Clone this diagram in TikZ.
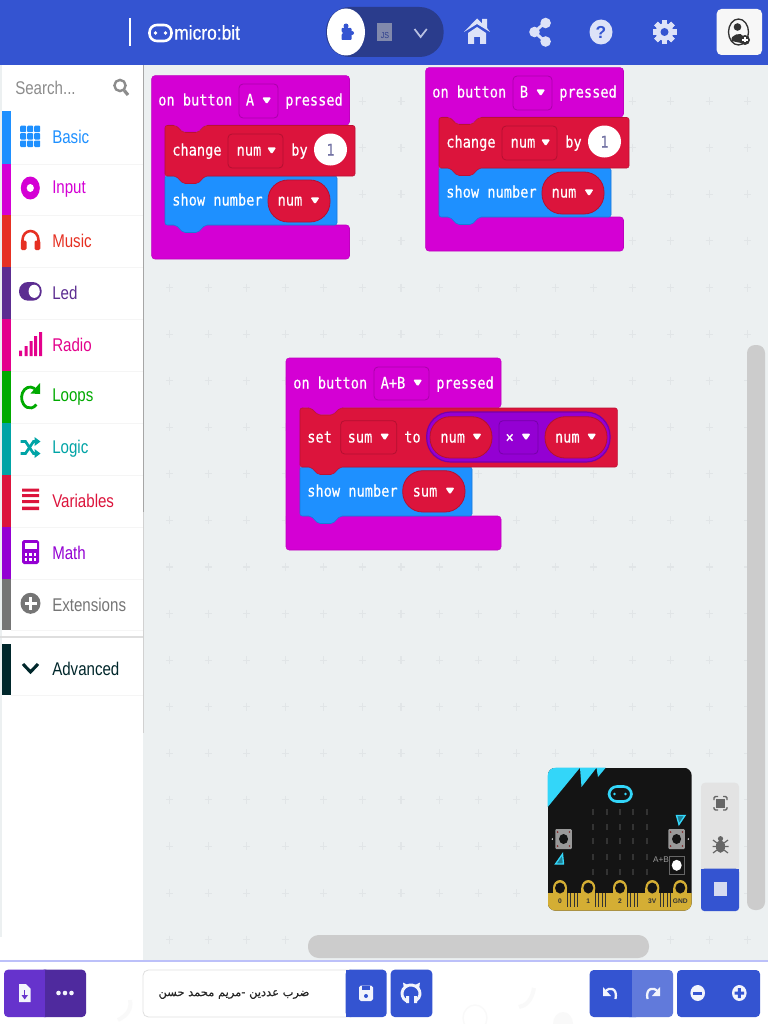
\documentclass[tikz,border=0pt]{standalone}
\usepackage{fontspec}
\setmainfont{Liberation Sans}
\TeXXeTstate=1
\newfontfamily\blockfont[FakeStretch=0.86,FakeBold=0.4]{DejaVu Sans Mono}
\newfontfamily\uifont[FakeStretch=0.82]{Liberation Sans}
\newfontfamily\logofont[FakeStretch=0.87,FakeBold=0.4]{Liberation Sans}
\newfontfamily\arabicfont[Script=Arabic,FakeBold=0.3]{DejaVu Sans}
\definecolor{hdr}{HTML}{3454D1}
\definecolor{hdrdark}{HTML}{2A3C8C}
\definecolor{lav}{HTML}{DDE2F8}
\definecolor{ws}{HTML}{ECF0F1}
\definecolor{plusc}{HTML}{E1E5E7}
\definecolor{cBasic}{HTML}{1E90FF}
\definecolor{cInput}{HTML}{D400D4}
\definecolor{cMusic}{HTML}{E63022}
\definecolor{cLed}{HTML}{5C2D91}
\definecolor{cRadio}{HTML}{E3008C}
\definecolor{cLoops}{HTML}{00AA00}
\definecolor{cLogic}{HTML}{00A4A6}
\definecolor{cVar}{HTML}{DC143C}
\definecolor{cMath}{HTML}{9400D3}
\definecolor{cExt}{HTML}{757575}
\definecolor{cAdv}{HTML}{00272B}
\definecolor{gold}{HTML}{D4AE34}
\definecolor{cyanb}{HTML}{33D6F9}
\definecolor{dlLight}{HTML}{6633CC}
\definecolor{dlDark}{HTML}{4F2A9E}
\definecolor{iconw}{HTML}{F2F4FC}
\tikzset{
  blocktext/.style={text=white,font=\blockfont\fontsize{11.9}{12}\selectfont,inner sep=0pt,anchor=base west},
  blockmid/.style={text=white,font=\blockfont\fontsize{11.9}{12}\selectfont,inner sep=0pt,anchor=base},
  catlabel/.style={font=\uifont\fontsize{13.8}{14}\selectfont,inner sep=0pt,anchor=west},
}
% rounded rectangle: fill, stroke, x1,y1,x2,y2,radius
\newcommand{\rrect}[7]{\draw[fill=#1,draw=#2,line width=.6pt,rounded corners=#7] (#3,#4) rectangle (#5,#6);}
% white drop-down mark
\newcommand{\ddown}[2]{\fill[white,rounded corners=1pt] ({#1-4.6},{#2-3.4}) -- ({#1+4.6},{#2-3.4}) -- (#1,{#2+3.6}) -- cycle;}
% stack block with notch and bump
\newcommand{\stackblock}[5]{\draw[fill=#1,draw=#1!85!black,line width=.4pt,rounded corners=1.6pt]
  (#2,#3) -- ({#2+11},#3) -- ({#2+18},{#3+7}) -- ({#2+33},{#3+7}) -- ({#2+40},#3) -- (#4,#3) -- (#4,#5)
  -- ({#2+40},#5) -- ({#2+33},{#5+7.5}) -- ({#2+18},{#5+7.5}) -- ({#2+11},#5) -- (#2,#5) -- cycle;}
% hat: x1,y1,x2,y2,yRowBottom,xInner,yBottomTop
\newcommand{\hatblock}[7]{\draw[fill=cInput,draw=cInput!90!black,line width=.4pt,rounded corners=2.4pt]
  (#1,#2) -- (#3,#2) -- (#3,#5) -- ({#6+40},#5) -- ({#6+33},{#5+7}) -- ({#6+18},{#5+7}) -- ({#6+11},#5) -- (#6,#5) -- (#6,#7) -- (#3,#7) -- (#3,#4) -- (#1,#4) -- cycle;}
\newcommand{\catbar}[4]{\fill[#1] (2,#2) rectangle (11,#3);\draw[draw=#4,line width=.4pt] (11,#3) -- (143,#3);}
\newcommand{\onbutton}[2]{%
  \hatblock{151.7}{75.7}{349.5}{259}{125}{165}{225}
  \stackblock{cBasic}{165}{176}{337}{225}
  \stackblock{cVar}{165}{125.5}{355}{176}
  \node[blocktext] (#1on) at (158,105.5) {on button};
  \rrect{cInput}{black!20!cInput}{239}{84}{278}{118}{3pt}
  \node[blockmid] (#1key) at (250,105.5) {#2};
  \ddown{266.7}{100.7}
  \node[blocktext] (#1pr) at (285,105.5) {pressed};
  \node[blocktext] (#1ch) at (172,155.5) {change};
  \rrect{cVar}{black!18!cVar}{228}{134}{283}{168}{3pt}
  \node[blockmid] (#1nv) at (249,155.5) {num};
  \ddown{271.7}{150.7}
  \node[blocktext] (#1by) at (291,155.5) {by};
  \fill[white] (330.5,149.5) ellipse[x radius=16.5,y radius=16];
  \node[blockmid,text=black!65!blue!55!white] (#1one) at (330.5,155.5) {1};
  \node[blocktext] (#1sh) at (172,205.5) {show number};
  \rrect{cVar}{black!18!cVar}{268}{180}{330}{222}{15pt}
  \node[blockmid] (#1nu) at (290,205.5) {num};
  \ddown{315}{200.7}
}
\begin{document}
\begin{tikzpicture}[x=0.75pt,y=-0.75pt]
\useasboundingbox (0,0) rectangle (768,1024);
\fill[white] (0,0) rectangle (768,1024);
% workspace
\fill[ws] (143,65) rectangle (768,961);
\foreach \i in {0,...,15}{\foreach \j in {0,...,18}{
  \pgfmathsetmacro{\px}{169.7+38.55*\i}
  \pgfmathsetmacro{\py}{101.2+46.58*\j}
  \draw[plusc,line width=.8pt] ({\px-3.5},\py) -- ({\px+3.5},\py) (\px,{\py-4}) -- (\px,{\py+4});
}}
% header
\fill[hdr] (0,0) rectangle (768,65);
\draw[white,line width=1pt] (130,18) -- (130,46);
\draw[white,line width=1.9pt,rounded corners=5.5pt] (149.5,25) rectangle (171.5,41);
\fill[white] (155.5,33) circle[radius=1.9] (165.5,33) circle[radius=1.9];
\node[font=\logofont\fontsize{15}{15}\selectfont,text=white,inner sep=0pt,anchor=west] (logo) at (174,32.5) {micro:bit};
\fill[hdrdark,rounded corners=18pt] (326,7) rectangle (443.6,57);
\fill[white] (346,32) ellipse[x radius=19,y radius=23.5];
\fill[hdr,rounded corners=.6pt] (341.5,28) rectangle (351.5,40);
\fill[hdr] (346,26) circle[radius=2.5] (352,33) circle[radius=2];
\fill[white] (341,33) circle[radius=1.8];
\fill[black!25!lav!70!hdrdark] (376.5,23) rectangle (392,41);
\node[font=\uifont\fontsize{6.5}{7}\selectfont,text=hdrdark,inner sep=0pt] (js) at (385,36) {JS};
\draw[lav!80!hdrdark,line width=1.3pt] (414.5,29) -- (420.6,37) -- (426.8,29);
% home
\fill[lav] (464,32) -- (477,18.5) -- (482,23.5) -- (482,19) -- (487,19) -- (487,28) -- (490,32) -- (477,24) -- cycle;
\fill[lav] (468,33) -- (477,27) -- (486,33) -- (486,44) -- (480,44) -- (480,37) -- (474,37) -- (474,44) -- (468,44) -- cycle;
% share
\draw[lav,line width=2.2pt] (545.6,22) -- (534.5,32) -- (545.6,42);
\fill[lav] (534.5,32) circle[radius=5.3] (545.6,23) circle[radius=5.3] (545.6,41.5) circle[radius=5.3];
% help
\fill[lav] (601,32) ellipse[x radius=11.5,y radius=12.5];
\node[font=\bfseries\fontsize{13}{13}\selectfont,text=hdr,inner sep=0pt] (help) at (601,32) {?};
% gear
\foreach \a in {0,45,...,315}{\fill[lav,shift={(664.5,32)},rotate=\a] (-2.6,-12) rectangle (2.6,12);}
\fill[lav] (664.5,32) circle[radius=8.8];
\fill[hdr] (664.5,32) circle[radius=4];
% account box
\fill[black!3,rounded corners=3.5pt] (716.7,9) rectangle (762,55);
\draw[black!80,line width=1pt] (738.5,32) ellipse[x radius=10,y radius=13];
\fill[black!80] (737.5,27) circle[radius=3.8];
\fill[black!80] (731.5,41) .. controls (730,34) and (742,32) .. (743,36) -- (741,43) -- cycle;
\fill[black!80] (745,40) circle[radius=5];
\draw[white,line width=.8pt] (742.4,40) -- (747.6,40) (745,37.5) -- (745,42.5);
% sidebar
\fill[white] (0,65) rectangle (143,961);
\fill[ws] (0,65) rectangle (2,937);
\fill[black!35] (142.7,65) rectangle (144.3,512);
\fill[black!18] (142.7,512) rectangle (144.3,733);
\node[font=\uifont\fontsize{13.8}{14}\selectfont,text=black!45,inner sep=0pt,anchor=west] (search) at (15,88) {Search...};
\draw[black!45,line width=1.8pt] (120,85.5) circle[radius=5.6];
\draw[black!45,line width=2.4pt] (124.3,90.5) -- (128,95);
\catbar{cBasic}{111}{164}{black!4}
\catbar{cInput}{164}{215}{black!4}
\catbar{cMusic}{215}{267}{black!4}
\catbar{cLed}{267}{319}{black!4}
\catbar{cRadio}{319}{371}{black!4}
\catbar{cLoops}{371}{423}{black!4}
\catbar{cLogic}{423}{475}{black!4}
\catbar{cVar}{475}{527}{black!4}
\catbar{cMath}{527}{579}{black!4}
\catbar{cExt}{579}{630}{black!4}
\draw[black!13,line width=.8pt] (0,637) -- (143,637);
\catbar{cAdv}{644}{695}{black!4}
\node[catlabel,text=cBasic] (lBasic) at (52,137) {Basic};
\node[catlabel,text=cInput] (lInput) at (52,189.5) {Input};
\node[catlabel,text=cMusic] (lMusic) at (52,241) {Music};
\node[catlabel,text=cLed] (lLed) at (52,293) {Led};
\node[catlabel,text=cRadio] (lRadio) at (52,345) {Radio};
\node[catlabel,text=cLoops] (lLoops) at (52,397) {Loops};
\node[catlabel,text=cLogic] (lLogic) at (52,449) {Logic};
\node[catlabel,text=cVar] (lVar) at (52,501) {Variables};
\node[catlabel,text=cMath] (lMath) at (52,552.5) {Math};
\node[catlabel,text=cExt] (lExt) at (52,605) {Extensions};
\node[catlabel,text=cAdv] (lAdv) at (52,668.5) {Advanced};
% Basic icon
\foreach \i in {0,1,2}{\foreach \j in {0,1,2}{
  \fill[cBasic,rounded corners=.7pt] ({20.2+7*\i},{125.7+7.4*\j}) rectangle ({26.2+7*\i},{132.2+7.4*\j});}}
% Input icon
\fill[cInput] (30.3,188) ellipse[x radius=9.5,y radius=11.5];
\fill[white] (30.3,188) ellipse[x radius=3.6,y radius=4];
% Music icon
\draw[cMusic,line width=1.9pt] (22.5,243) -- (22.5,240) arc[start angle=180,end angle=360,x radius=8,y radius=9] -- (38.5,243);
\fill[cMusic,rounded corners=1pt] (20.8,240.5) rectangle (26.5,250) (34.5,240.5) rectangle (40.3,250);
% Led icon
\fill[cLed,rounded corners=6.8pt] (19,282) rectangle (41.7,300.7);
\fill[white] (34.2,291.3) ellipse[x radius=5.6,y radius=6.6];
% Radio icon
\fill[cRadio] (19,350.5) rectangle (22,356) (24.5,346) rectangle (27.5,356) (29.7,341) rectangle (32.7,356) (34.2,336) rectangle (37.2,356) (39,332) rectangle (42,356);
% Loops icon
\draw[cLoops,line width=2.1pt] (36.6,390.8) arc[start angle=-40,end angle=-318,x radius=8.5,y radius=10.5];
\fill[cLoops] (40,383) -- (40,394) -- (30.5,393.5) -- cycle;
% Logic icon
\draw[cLogic,line width=2pt] (20.5,441.5) -- (25.5,441.5) -- (33.5,453.5) -- (37,453.5) (20.5,453.5) -- (25.5,453.5) -- (33.5,441.5) -- (37,441.5);
\fill[cLogic] (34.5,437) -- (40.5,441.5) -- (34.5,446) -- cycle (34.5,449) -- (40.5,453.5) -- (34.5,458) -- cycle;
% Variables icon
\fill[cVar] (22,488.5) rectangle (39,491.5) (22,494) rectangle (39,497) (22,500) rectangle (39,503) (22,506.5) rectangle (39,510);
% Math icon
\fill[cMath,rounded corners=1.4pt] (22,540) rectangle (39,564);
\fill[white] (24.5,543) rectangle (36.5,549);
\foreach \i in {0,1,2}{\foreach \j in {0,1}{\fill[white] ({25+4.4*\i},{552.5+5*\j}) rectangle ({27.4+4.4*\i},{555.5+5*\j});}}
% Extensions icon
\fill[cExt] (30.5,603.3) ellipse[x radius=10,y radius=10.5];
\draw[white,line width=2.2pt] (24.5,603.3) -- (36.5,603.3) (30.5,597) -- (30.5,609.6);
% Advanced icon
\draw[cAdv,line width=2.3pt] (23,664) -- (30.5,672) -- (38,664);
% blocks A and B
\onbutton{a}{A}
\begin{scope}[shift={(274,-8)}]
\onbutton{b}{B}
\end{scope}
% block A+B
\hatblock{286}{358}{501}{550}{407.7}{300}{516}
\stackblock{cBasic}{300}{467}{472}{516}
\stackblock{cVar}{300}{408}{617.3}{467}
\node[blocktext] (con) at (293,388.5) {on button};
\rrect{cInput}{black!20!cInput}{374}{367}{429}{400}{3pt}
\node[blockmid] (ckey) at (393,388.5) {A+B};
\ddown{417.7}{383}
\node[blocktext] (cpr) at (436,388.5) {pressed};
\node[blocktext] (cset) at (307,442.5) {set};
\rrect{cVar}{black!18!cVar}{340.7}{420.7}{396.7}{454}{3pt}
\node[blockmid] (csum) at (360,442.5) {sum};
\ddown{384.7}{437}
\node[blocktext] (cto) at (404,442.5) {to};
\draw[fill=cMath,draw=cMath!80!black,line width=.9pt,rounded corners=18pt] (426.7,412) rectangle (610,462);
\rrect{cVar}{black!18!cVar}{430}{416.7}{492}{458}{15pt}
\node[blockmid] (cn1) at (452.7,442.5) {num};
\ddown{477}{437}
\rrect{cMath}{black!20!cMath}{499}{420.7}{538}{454}{3pt}
\node[blockmid] (cx) at (509.7,442.5) {×};
\ddown{526}{437}
\rrect{cVar}{black!18!cVar}{545}{416.7}{607}{458}{15pt}
\node[blockmid] (cn2) at (567.3,442.5) {num};
\ddown{591.7}{437}
\node[blocktext] (csh) at (307,496.5) {show number};
\rrect{cVar}{black!18!cVar}{402.7}{470.7}{465}{512}{15pt}
\node[blockmid] (csu) at (425,496.5) {sum};
\ddown{450}{491}
% scrollbars
\fill[black!20,rounded corners=6pt] (747,345) rectangle (765,910);
\fill[black!20,rounded corners=8pt] (308,935) rectangle (649,958);
% simulator
\begin{scope}
\clip[rounded corners=6pt] (547.7,767.7) rectangle (691.7,910.7);
\fill[black!92] (547.7,767.7) rectangle (691.7,910.7);
\fill[cyanb] (547.7,807) -- (580,767.7) -- (581.5,787) -- (596.5,767.7) -- (598,777) -- (605.7,767.7) -- (547.7,767.7) -- cycle;
\fill[gold] (547.7,893) rectangle (691.7,910.7);
\foreach \x in {567,570.5,574,577.5,595,598.5,602,605.5,627,630.5,634,637.5,660,663.5,667,670.5}{
  \draw[black!80,line width=.5pt] (\x,893) -- (\x,907);}
\end{scope}
\foreach \x in {560,588.3,620,652.3,680.3}{
  \fill[gold] (\x,888) ellipse[x radius=7,y radius=8];
  \fill[gold] ({\x-7},888) rectangle ({\x+7},905);
  \fill[black!92] (\x,888) ellipse[x radius=5,y radius=5.5];
}
\foreach \x/\t/\n in {560/0/p0,588.3/1/p1,620/2/p2,652.3/3V/p3,680.3/GND/p4}{
  \node[font=\bfseries\fontsize{5}{5}\selectfont,text=black!80,inner sep=0pt] (\n) at (\x,900.7) {\t};
}
\foreach \x in {593,606.7,620,633,646.7}{\foreach \y in {811.7,826.7,841,856.7,871.7}{
  \fill[black!80] ({\x-1.2},{\y-3}) rectangle ({\x+1.2},{\y+3});}}
\draw[cyanb,line width=2pt,rounded corners=6pt] (609,786.5) rectangle (631.5,801.5);
\fill[cyanb] (614.5,794) circle[radius=1.4] (625.5,794) circle[radius=1.4];
\foreach \x in {555.3,668.3}{
  \fill[black!40,rounded corners=.8pt] (\x,829) rectangle ({\x+16.5},849);
  \fill[black!92] ({\x+8.25},839) ellipse[x radius=4.5,y radius=5];
  \fill[red!50!black!70!gray] ({\x+2.3},832) circle[radius=.9] ({\x+14.2},832) circle[radius=.9] ({\x+2.3},846) circle[radius=.9] ({\x+14.2},846) circle[radius=.9];
}
\fill[white] (552.3,839) circle[radius=.8] (688.3,839) circle[radius=.8];
\fill[black!60] (669,856) rectangle (685,875);
\fill[black!92] (670,857) rectangle (684,874);
\fill[white] (676.7,865.3) ellipse[x radius=5,y radius=5.5];
\node[font=\fontsize{6.2}{6}\selectfont,text=black!40,inner sep=0pt] (ab) at (661,860) {A+B};
\draw[cyanb,line width=1pt,fill=cyanb!60!black] (676.5,815.5) -- (685,815.5) -- (679,824.5) -- cycle;
\draw[cyanb,line width=1pt,fill=cyanb!60!black] (555.5,864) -- (563.5,864) -- (562.5,854) -- cycle;
% simulator toolbar
\fill[black!11,rounded corners=3pt] (701,782.7) rectangle (739,875);
\fill[hdr,rounded corners=2.4pt] (701,868.7) rectangle (739,911);
\fill[hdr] (701,868.7) rectangle (739,878);
\fill[black!3!lav] (713.5,882) rectangle (726.5,896);
\fill[black!60] (716,798.5) rectangle (725,808);
\draw[black!60,line width=1pt,rounded corners=1pt] (714,800) -- (714,796.5) -- (718,796.5) (723,796.5) -- (727,796.5) -- (727,800) (727,807) -- (727,810) -- (723,810) (718,810) -- (714,810) -- (714,807);
\fill[black!60] (720.5,846.5) ellipse[x radius=4.6,y radius=6.3];
\fill[black!60] (720.5,838.7) circle[radius=2.6];
\draw[black!60,line width=.9pt] (713,840) -- (717,843) (728,840) -- (724,843) (712.5,846.5) -- (728.5,846.5) (713,853) -- (717,850) (728,853) -- (724,850);
% bottom bar
\fill[white] (0,961) rectangle (768,1024);
\draw[lav!85!blue,line width=1pt] (0,961) -- (768,961);
\draw[black!2.5,line width=3pt] (534,988) .. controls (532,1000) and (526,1006) .. (519,1007);
\draw[black!2.5,line width=1pt] (475,1018) ellipse[x radius=12,y radius=13];
\fill[black!2.5] (573,1024) arc[start angle=0,end angle=-180,x radius=10,y radius=12] -- cycle;
\draw[black!2.5,line width=3pt] (130,1000) .. controls (132,1010) and (126,1016) .. (118,1020);
% download / more
\fill[dlLight,rounded corners=3pt] (4,969.7) rectangle (50,1017);
\fill[dlDark,rounded corners=3pt] (40,969.7) rectangle (86,1017);
\fill[dlDark] (45,969.7) rectangle (60,1017);
\fill[dlLight] (30,969.7) rectangle (45,1017);
\fill[iconw] (19,984) -- (26,984) -- (30.5,988.5) -- (30.5,1002) -- (19,1002) -- cycle;
\draw[dlLight,line width=1pt] (24.7,990) -- (24.7,998);
\fill[dlLight] (21.5,995) -- (28,995) -- (24.7,999.5) -- cycle;
\fill[iconw] (58.5,993) circle[radius=2.3] (65,993) circle[radius=2.3] (71.5,993) circle[radius=2.3];
% project name
\draw[fill=white,draw=black!12,line width=.6pt,rounded corners=4pt] (143,970) rectangle (356,1017);
\node[font=\arabicfont\fontsize{8.6}{10}\selectfont,text=black!85,inner sep=0pt] (proj) at (234,994.5) {\beginR ضرب عددين -مريم محمد حسن\endR};
\fill[hdr,rounded corners=3pt] (345.7,969.7) rectangle (386.7,1017);
\fill[hdr] (345.7,969.7) rectangle (355,1017);
\fill[iconw,rounded corners=1.4pt] (359,985.5) rectangle (373,1001);
\fill[hdr] (362,985.5) rectangle (370,990);
\fill[hdr] (366,996) circle[radius=2];
\fill[hdr,rounded corners=3pt] (390.7,969.7) rectangle (432.3,1017);
\draw[iconw,line width=2.2pt] (406.5,1001) arc[start angle=120,end angle=420,x radius=9,y radius=8.6];
\fill[iconw] (403,982.5) -- (409,985.5) -- (404,989) -- cycle (420,982.5) -- (414,985.5) -- (419,989) -- cycle;
\fill[iconw] (406,996) rectangle (409,1003) (414,996) rectangle (417,1003);
% undo / redo
\fill[hdr,rounded corners=3pt] (589.7,970) rectangle (640,1017);
\fill[hdr!78!white,rounded corners=3pt] (625,970) rectangle (673,1017);
\fill[hdr!78!white] (631.7,970) rectangle (640,1017);
\fill[hdr] (625,970) rectangle (631.7,1017);
\draw[iconw,line width=1.7pt] (605,992) .. controls (609,986) and (618,988) .. (615.5,999);
\fill[iconw] (603,987) -- (603,996) -- (611,996) -- cycle;
\draw[iconw,line width=1.7pt] (658,992) .. controls (654,986) and (645,988) .. (647.5,999);
\fill[iconw] (660,987) -- (660,996) -- (652,996) -- cycle;
% zoom
\fill[hdr,rounded corners=3pt] (677,970) rectangle (760,1017);
\fill[iconw] (697.7,993) ellipse[x radius=7.3,y radius=8];
\fill[hdr] (693,991.6) rectangle (702.4,994.6);
\fill[iconw] (739.3,993) ellipse[x radius=7.3,y radius=8];
\fill[hdr] (734.6,991.6) rectangle (744,994.6) (737.8,988) rectangle (740.8,998);
\end{tikzpicture}
\end{document}
